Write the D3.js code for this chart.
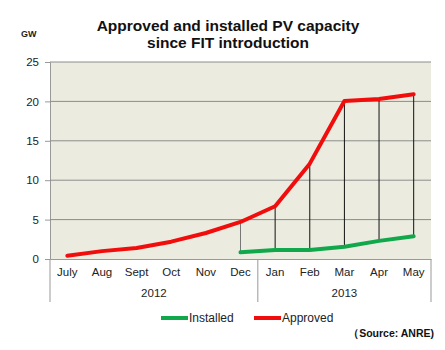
<!DOCTYPE html>
<html>
<head>
<meta charset="utf-8">
<script src="https://cdn.jsdelivr.net/npm/d3@7"></script>
<style>
  body { margin: 0; background: #fff; }
  text { font-family: Arial, "Liberation Sans", sans-serif; }
</style>
</head>
<body>
<div id="chart-area"></div>
<script>
// Datos
var months = ["July", "Aug", "Sept", "Oct", "Nov", "Dec", "Jan", "Feb", "Mar", "Apr", "May"];
var years = [{year: "2012", from: "July", to: "Dec"}, {year: "2013", from: "Jan", to: "May"}];
var approved = [0.42, 1.0, 1.4, 2.2, 3.3, 4.7, 6.7, 12.1, 20.05, 20.3, 20.9];
var installed = [null, null, null, null, null, 0.85, 1.14, 1.14, 1.56, 2.3, 2.9];
var yTicks = [0, 5, 10, 15, 20, 25];

var width = 445, height = 350;
var margin = {top: 62, right: 14, bottom: 91, left: 50};
var w = width - margin.left - margin.right;
var h = height - margin.top - margin.bottom;

var svg = d3.select("#chart-area").append("svg")
    .attr("width", width)
    .attr("height", height);

// Titulo
svg.append("text")
    .attr("x", 228).attr("y", 31)
    .attr("text-anchor", "middle")
    .attr("font-size", "15.5px").attr("font-weight", "bold")
    .attr("fill", "#111")
    .text("Approved and installed PV capacity");
svg.append("text")
    .attr("x", 228).attr("y", 48)
    .attr("text-anchor", "middle")
    .attr("font-size", "15.5px").attr("font-weight", "bold")
    .attr("fill", "#111")
    .text("since FIT introduction");
svg.append("text")
    .attr("x", 21).attr("y", 37)
    .attr("font-size", "9px").attr("font-weight", "bold")
    .attr("fill", "#222")
    .text("GW");

var g = svg.append("g")
    .attr("transform", "translate(" + margin.left + "," + margin.top + ")");

// Escalas
var x = d3.scaleBand().domain(months).range([0, w]);
var y = d3.scaleLinear().domain([0, 25]).range([h, 0]);

// Fondo
g.append("rect")
    .attr("width", w).attr("height", h)
    .attr("fill", "#ebecdf");

// Grid + eje Y
var leftAxis = d3.axisLeft(y).tickValues(yTicks).tickSize(5).tickPadding(6);
var ya = g.append("g").attr("class", "left axis").call(leftAxis);
ya.select(".domain").attr("stroke", "#999");
ya.selectAll(".tick line").attr("stroke", "#999");
ya.selectAll("text").attr("font-size", "11.5px").attr("fill", "#222")
    .attr("font-family", "Arial, 'Liberation Sans', sans-serif");

g.append("g").selectAll("line").data(yTicks.filter(function(d) { return d > 0; }))
    .enter().append("line")
    .attr("x1", 0).attr("x2", w)
    .attr("y1", function(d) { return y(d); })
    .attr("y2", function(d) { return y(d); })
    .attr("stroke", "#8c8c8c").attr("stroke-width", 1);

// Eje X
var bottomAxis = d3.axisBottom(x).tickSize(0).tickPadding(9);
var xa = g.append("g").attr("class", "bottom axis")
    .attr("transform", "translate(0," + h + ")")
    .call(bottomAxis);
xa.select(".domain").attr("stroke", "#999");
xa.selectAll("text").attr("font-size", "11.5px").attr("fill", "#222")
    .attr("font-family", "Arial, 'Liberation Sans', sans-serif");

// Separadores de años
var seps = [0, x("Jan"), w];
g.selectAll(".sep").data(seps).enter().append("line")
    .attr("class", "sep")
    .attr("x1", function(d) { return d; }).attr("x2", function(d) { return d; })
    .attr("y1", h).attr("y2", h + 43)
    .attr("stroke", "#999");

g.selectAll(".year").data(years).enter().append("text")
    .attr("class", "year")
    .attr("x", function(d) { return (x(d.from) + x(d.to) + x.bandwidth()) / 2; })
    .attr("y", h + 38)
    .attr("text-anchor", "middle")
    .attr("font-size", "11.5px").attr("fill", "#222")
    .text(function(d) { return d.year; });

// Lineas verticales (drop lines)
var pairs = months.map(function(m, i) { return {m: m, a: approved[i], i2: installed[i]}; })
    .filter(function(d) { return d.i2 !== null; });
g.selectAll(".drop").data(pairs).enter().append("line")
    .attr("class", "drop")
    .attr("x1", function(d) { return x(d.m) + x.bandwidth() / 2; })
    .attr("x2", function(d) { return x(d.m) + x.bandwidth() / 2; })
    .attr("y1", function(d) { return y(d.a); })
    .attr("y2", function(d) { return y(d.i2); })
    .attr("stroke", function(d, i) { return i === 0 ? "#777" : "#111"; })
    .attr("stroke-width", 1);

// Lineas
var line = d3.line()
    .defined(function(d) { return d[1] !== null; })
    .x(function(d) { return x(d[0]) + x.bandwidth() / 2; })
    .y(function(d) { return y(d[1]); })
    .curve(d3.curveLinear);

g.append("path")
    .datum(months.map(function(m, i) { return [m, installed[i]]; }))
    .attr("d", line)
    .attr("fill", "none").attr("stroke", "#10a84a").attr("stroke-width", 4)
    .attr("stroke-linecap", "round").attr("stroke-linejoin", "round");

g.append("path")
    .datum(months.map(function(m, i) { return [m, approved[i]]; }))
    .attr("d", line)
    .attr("fill", "none").attr("stroke", "#f20d0d").attr("stroke-width", 4)
    .attr("stroke-linecap", "round").attr("stroke-linejoin", "round");

// Leyenda
var legend = [{name: "Installed", color: "#10a84a", x: 161}, {name: "Approved", color: "#f20d0d", x: 254}];
var lg = svg.selectAll(".legend").data(legend).enter().append("g").attr("class", "legend");
lg.append("line")
    .attr("x1", function(d) { return d.x; }).attr("x2", function(d) { return d.x + 27; })
    .attr("y1", 318).attr("y2", 318)
    .attr("stroke", function(d) { return d.color; }).attr("stroke-width", 4);
lg.append("text")
    .attr("x", function(d) { return d.x + 28; }).attr("y", 322)
    .attr("font-size", "12px").attr("fill", "#222")
    .text(function(d) { return d.name; });

// Fuente
svg.append("text")
    .attr("x", 434).attr("y", 337)
    .attr("text-anchor", "end")
    .attr("font-size", "10.5px").attr("font-weight", "bold")
    .attr("fill", "#111")
    .text("（Source: ANRE)");
</script>
</body>
</html>
